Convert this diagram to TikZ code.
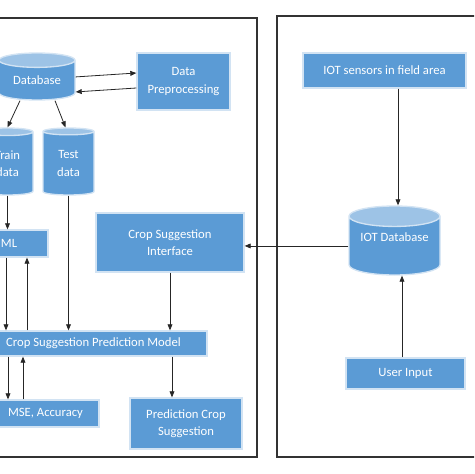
\documentclass[tikz,border=0pt]{standalone}
\usepackage{fontspec}
\setmainfont{Carlito}
\usetikzlibrary{shapes.geometric,arrows.meta,calc}
\definecolor{boxblue}{HTML}{5B9BD5}
\definecolor{topblue}{HTML}{9DC3E6}
\definecolor{rimblue}{HTML}{D2E3F3}
\tikzset{
    blue-box/.style = {draw=rimblue, fill=boxblue, line width=1pt, rectangle, text=white, align=center, inner sep=0pt, font=\fontsize{9.5}{13}\selectfont},
    blue-db/.style = {cylinder, shape border rotate=90, anchor=shape center, draw=rimblue, line width=1pt, cylinder uses custom fill, cylinder body fill=boxblue, cylinder end fill=topblue, aspect=0.3, text=white, align=center, inner sep=0pt, font=\fontsize{9.5}{13}\selectfont},
    panel/.style = {draw=black!80, line width=1.1pt},
    flow/.style = {-{Triangle[length=4.5pt,width=3.6pt]}, black!85, line width=0.6pt},
}

\begin{document}
\begin{tikzpicture}[x=0.75pt,y=-0.75pt]
\useasboundingbox (0,0) rectangle (474,474);
\clip (0,0) rectangle (474,474);
% two panels
\draw[panel] (-10,18) rectangle (257,457);
\draw[panel] (277,16) rectangle (490,457);

% left panel
\node[blue-db, minimum width=57pt, minimum height=35.25pt] (db) at (37,76.5) {Database};
\node[blue-box, minimum width=69.75pt, minimum height=42.75pt] (prep) at (183.5,81.5) {Data\\Preprocessing};
\node[blue-db, minimum width=38.25pt, minimum height=50.25pt] (train) at (7.5,161.5) {Train\\data};
\node[blue-db, minimum width=38.25pt, minimum height=50.25pt] (test) at (68.5,161.5) {Test\\data};
\node[blue-box, minimum width=58.5pt, minimum height=20.25pt] (ml) at (9,243.5) {ML};
\node[blue-box, minimum width=111pt, minimum height=44.25pt] (csi) at (170,242.5) {Crop Suggestion\\Interface};
\node[blue-box, minimum width=170.25pt, minimum height=18.75pt] (cspm) at (93.5,343.5) {Crop Suggestion Prediction Model};
\node[blue-box, minimum width=80.25pt, minimum height=20.25pt] (mse) at (45.5,413.5) {MSE, Accuracy};
\node[blue-box, minimum width=84pt, minimum height=38.25pt] (pcs) at (186,423.5) {Prediction Crop\\Suggestion};

% right panel
\node[blue-box, minimum width=122.25pt, minimum height=26.25pt] (sensors) at (384.5,70.5) {IOT sensors in field area};
\node[blue-db, minimum width=68.25pt, minimum height=51.75pt, text depth=14pt] (iotdb) at (394.5,240.5) {IOT Database};
\node[blue-box, minimum width=89.25pt, minimum height=23.25pt] (user) at (405.5,373.5) {User Input};

% helper points
\coordinate (dbtrain) at ($(db.south)+(-17,0)$);
\coordinate (dbtest) at ($(db.south)+(18,0)$);
\coordinate (mlout) at ($(ml.south)+(-3,0)$);
\coordinate (mlin) at ($(ml.south)+(18,0)$);
\coordinate (mseout) at ($(mse.north)+(-22.5,0)$);
\coordinate (msein) at ($(mse.north)+(-37.5,0)$);
\coordinate (pcsin) at ($(pcs.north)+(-14,0)$);
\coordinate (iotin) at ($(iotdb.north)+(3.5,0)$);
\coordinate (userout) at ($(user.north)+(-3.5,0)$);

% connectors
\draw[flow] ($(db.east)+(0,-3.5)$) -- ($(prep.west)+(0,-8.5)$);
\draw[flow] ($(prep.west)+(0,6.5)$) -- ($(db.east)+(0,11.5)$);
\draw[flow] (dbtrain) -- (train.north);
\draw[flow] (dbtest) -- ($(test.north)+(-3,0)$);
\draw[flow] (train.south) -- (train.south |- ml.north);
\draw[flow] (mlout) -- (mlout |- cspm.north);
\draw[flow] (mlin |- cspm.north) -- (mlin);
\draw[flow] (test.south) -- (test.south |- cspm.north);
\draw[flow] (csi.south) -- (csi.south |- cspm.north);
\draw[flow] (msein |- cspm.south) -- (msein);
\draw[flow] (mseout) -- (mseout |- cspm.south);
\draw[flow] (pcsin |- cspm.south) -- (pcsin);
\draw[flow] (iotin |- sensors.south) -- (iotin);
\draw[flow] (userout) -- (userout |- iotdb.south);
\draw[flow] (iotdb.west) -- (iotdb.west -| csi.east);
\end{tikzpicture}
\end{document}
